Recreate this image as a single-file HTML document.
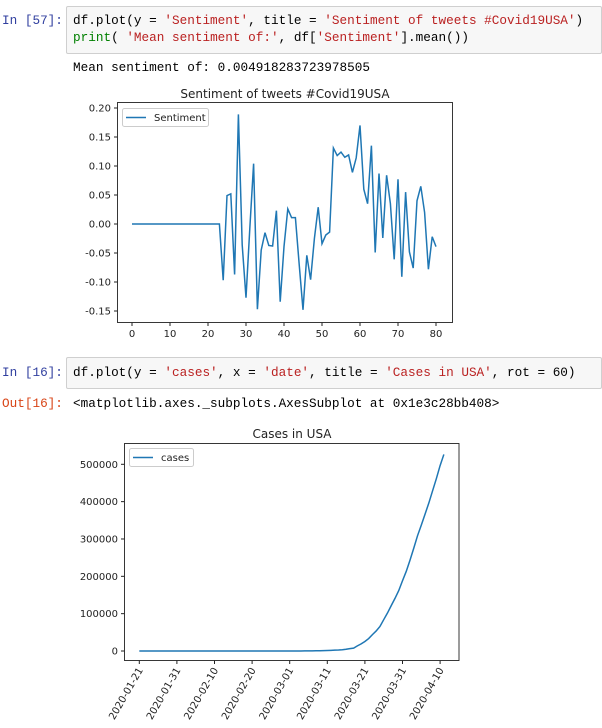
<!DOCTYPE html>
<html><head><meta charset="utf-8"><style>
body{margin:0;background:#fff;width:602px;height:728px;overflow:hidden;position:relative;font-family:"Liberation Mono",monospace;}
.p{position:absolute;font-size:12.7px;white-space:pre;line-height:17px}
.in{color:#303F9F}.out{color:#D84315}
.box{position:absolute;background:#f7f7f7;border:1px solid #cfcfcf;border-radius:2px}
.s{color:#BA2121}.k{color:#008000}
svg{position:absolute;left:0;top:0}
svg text{font-family:"DejaVu Sans",sans-serif;font-size:10px;fill:#222}
svg text.title{font-size:12px}
</style></head><body>
<div class="p in" style="left:2px;top:12px">In [57]:</div>
<div class="box" style="left:66px;top:6px;width:534px;height:46px"></div>
<div class="p" style="left:73px;top:12px">df.plot(y = <span class="s">'Sentiment'</span>, title = <span class="s">'Sentiment of tweets #Covid19USA'</span>)</div>
<div class="p" style="left:73px;top:29px"><span class="k">print</span>( <span class="s">'Mean sentiment of:'</span>, df[<span class="s">'Sentiment'</span>].mean())</div>
<div class="p" style="left:73px;top:59px">Mean sentiment of: 0.004918283723978505</div>
<div class="p in" style="left:2px;top:364px">In [16]:</div>
<div class="box" style="left:66px;top:357px;width:534px;height:30px"></div>
<div class="p" style="left:73px;top:364px">df.plot(y = <span class="s">'cases'</span>, x = <span class="s">'date'</span>, title = <span class="s">'Cases in USA'</span>, rot = 60)</div>
<div class="p out" style="left:2px;top:395px">Out[16]:</div>
<div class="p" style="left:73px;top:395px">&lt;matplotlib.axes._subplots.AxesSubplot at 0x1e3c28bb408&gt;</div>
<svg id="svg" width="602" height="728"></svg>
<script>
const sentX = Array.from({length:81},(_,i)=>i);
const sentiment = [0,0,0,0,0,0,0,0,0,0,0,0,0,0,0,0,0,0,0,0,0,0,0,0,
-0.097,0.049,0.052,-0.087,0.189,-0.036,-0.127,-0.008,0.104,-0.147,-0.045,-0.015,-0.037,-0.038,0.023,-0.134,
-0.039,0.026,0.011,0.011,-0.07,-0.148,-0.054,-0.096,-0.025,0.029,-0.034,-0.019,-0.014,0.131,0.118,0.124,
0.115,0.119,0.089,0.114,0.17,0.06,0.035,0.135,-0.049,0.087,-0.024,0.084,0.035,-0.061,0.077,-0.091,0.055,
-0.048,-0.076,0.04,0.065,0.02,-0.078,-0.022,-0.039];
const sentXTicks = [0,10,20,30,40,50,60,70,80];
const sentYTicks = [-0.15,-0.10,-0.05,0.00,0.05,0.10,0.15,0.20];
const cases = [1,1,2,2,5,5,5,5,5,6,7,8,11,11,11,12,12,12,12,12,13,13,14,14,14,14,14,14,14,16,16,16,16,16,16,17,17,25,32,55,74,
98,118,149,217,262,402,518,583,959,1281,1663,2179,2727,3499,4632,6421,7786,13680,
19101,25493,33276,43847,53740,65778,83836,101657,121478,140886,161807,188172,
213372,243453,275586,308853,337072,366667,396223,429052,461437,496535,526396];
const caseXTickLabels = ['2020-01-21','2020-01-31','2020-02-10','2020-02-20','2020-03-01','2020-03-11','2020-03-21','2020-03-31','2020-04-10'];
const caseXTickDays = [0,10,20,30,40,50,60,70,80];
const caseYTicks = [0,100000,200000,300000,400000,500000];

const svg=document.getElementById('svg');
const NS='http://www.w3.org/2000/svg';
function mk(t,a,txt){const e=document.createElementNS(NS,t);for(const k in a)e.setAttribute(k,a[k]);if(txt!==undefined)e.textContent=txt;svg.appendChild(e);return e;}

// Chart 1
const x1=v=>132+v*3.8, y1=v=>224-v*580;
let e=mk('rect',{x:117.5,y:102.5,width:335,height:220,fill:'none',stroke:'#222','stroke-width':0.9});


e=mk('text',{x:285,y:98,'text-anchor':'middle','class':'title'},'Sentiment of tweets #Covid19USA');


sentXTicks.forEach(t=>{
  mk('line',{x1:x1(t),x2:x1(t),y1:322.5,y2:326,stroke:'#222'});
  e=mk('text',{x:x1(t),y:337,'text-anchor':'middle'},String(t));
  
  
});
sentYTicks.forEach(t=>{
  mk('line',{x1:114,x2:117.5,y1:y1(t),y2:y1(t),stroke:'#222'});
  e=mk('text',{x:111,y:y1(t)+3.5,'text-anchor':'end'},t.toFixed(2));
  
  
});
e=mk('polyline',{points:sentiment.map((v,i)=>x1(sentX[i])+','+y1(v)).join(' '),fill:'none',stroke:'#1f77b4','stroke-width':1.5});


e=mk('rect',{x:122.5,y:108.5,width:86,height:18,rx:2,fill:'#fff',stroke:'#ccc'});


mk('line',{x1:126,x2:146,y1:117.5,y2:117.5,stroke:'#1f77b4','stroke-width':1.5});
mk('text',{x:154,y:121},'Sentiment');

// Chart 2
const x2=d=>139.3+d*3.76, y2=v=>651-v*186.7/500000;
e=mk('rect',{x:124.5,y:443.5,width:334.5,height:217,fill:'none',stroke:'#222','stroke-width':0.9});


e=mk('text',{x:292,y:438,'text-anchor':'middle','class':'title'},'Cases in USA');


caseXTickDays.forEach((d,i)=>{
  const x=x2(d);
  mk('line',{x1:x,x2:x,y1:660.5,y2:664,stroke:'#222'});
  e=mk('text',{x:x+4,y:670,'text-anchor':'end',transform:`rotate(-60 ${x+4} 670)`},caseXTickLabels[i]);
  
  
});
caseYTicks.forEach(t=>{
  mk('line',{x1:121,x2:124.5,y1:y2(t),y2:y2(t),stroke:'#222'});
  e=mk('text',{x:118,y:y2(t)+3.5,'text-anchor':'end'},String(t));
  
  
});
e=mk('polyline',{points:cases.map((v,i)=>x2(i)+','+y2(v)).join(' '),fill:'none',stroke:'#1f77b4','stroke-width':1.5});


e=mk('rect',{x:129.5,y:448.5,width:64,height:18,rx:2,fill:'#fff',stroke:'#ccc'});


mk('line',{x1:133,x2:153,y1:457.5,y2:457.5,stroke:'#1f77b4','stroke-width':1.5});
mk('text',{x:161,y:461},'cases');
</script>
</body></html>
